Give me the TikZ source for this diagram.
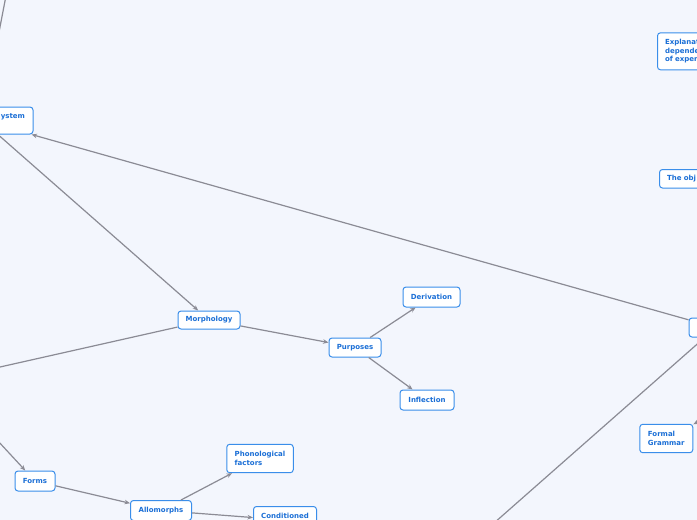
\documentclass[tikz,border=0pt]{standalone}
\usepackage{fontspec}
\setmainfont{DejaVu Sans}
\usetikzlibrary{arrows.meta}
\definecolor{bg}{HTML}{F3F6FD}
\definecolor{nodeblue}{HTML}{3A8EEA}
\definecolor{textblue}{HTML}{1B6FD6}
\definecolor{edgegray}{HTML}{8B8B95}
\begin{document}
\begin{tikzpicture}[x=1pt,y=-1pt,
  box/.style={draw=nodeblue, fill=white, rounded corners=3pt, line width=1pt, text=textblue,
    font=\fontsize{7}{8.5}\selectfont\bfseries, inner xsep=7.5pt, inner ysep=2pt, align=left},
  conn/.style={draw=edgegray, line width=1.2pt},
  arr/.style={conn, -{Stealth[length=5.5pt,width=4.5pt]}}]
\useasboundingbox (0,0) rectangle (697,520);
\clip (0,0) rectangle (697,520);
\fill[bg] (0,0) rectangle (697,520);

% nodes
\node[box, minimum width=102pt, minimum height=27pt, text width=86pt, align=right] (sys) at (-18,120.5) {ystem\\\mbox{}};
\node[box, minimum width=62pt, minimum height=18pt] (morph) at (209,320) {Morphology};
\node[box, minimum width=52pt, minimum height=19pt] (purp) at (355,347.5) {Purposes};
\node[box, minimum width=57pt, minimum height=20pt] (deriv) at (431.5,297) {Derivation};
\node[box, minimum width=54pt, minimum height=20pt] (infl) at (427,400) {Inflection};
\node[box, minimum width=54pt, minimum height=19pt] (R) at (716,327.5) {};
\node[box, minimum width=53pt, minimum height=28.4pt] (formal) at (666.3,438.5) {Formal\\Grammar};
\node[box, minimum width=40pt, minimum height=20pt] (forms) at (35,481) {Forms};
\node[box, minimum width=61pt, minimum height=20pt] (allo) at (161,510.5) {Allomorphs};
\node[box, minimum width=66.5pt, minimum height=28.4pt] (phon) at (260,458.5) {Phonological\\factors};
\node[box, anchor=north west, minimum width=63pt, minimum height=27pt] (cond) at (253,506) {Conditioned\\\mbox{}};
\node[box, anchor=north west, text width=55pt, minimum height=37pt] (expl) at (657,32.3) {Explanat\\depende\\of exper};
\node[box, anchor=north west, text width=55pt, minimum height=18.5pt] (obj) at (659,169) {The obj};

% free ends
\coordinate (topc) at (10,-25);
\coordinate (leftm) at (-60,380.5);
\coordinate (leftf) at (-40,400);
\coordinate (bl) at (460,553);
\coordinate (fr) at (730,405);

% connectors
\draw[conn] (sys) -- (topc);
\draw[arr] (sys) -- (morph);
\draw[arr] (R) -- (sys);
\draw[conn] (leftm) -- (morph);
\draw[arr] (morph) -- (purp);
\draw[arr] (purp) -- (deriv);
\draw[arr] (purp) -- (infl);
\draw[conn] (R) -- (bl);
\draw[arr] (fr) -- (formal);
\draw[arr] (leftf) -- (forms);
\draw[arr] (forms) -- (allo);
\draw[arr] (allo) -- (phon);
\draw[arr] (allo) -- (cond);
\end{tikzpicture}
\end{document}
